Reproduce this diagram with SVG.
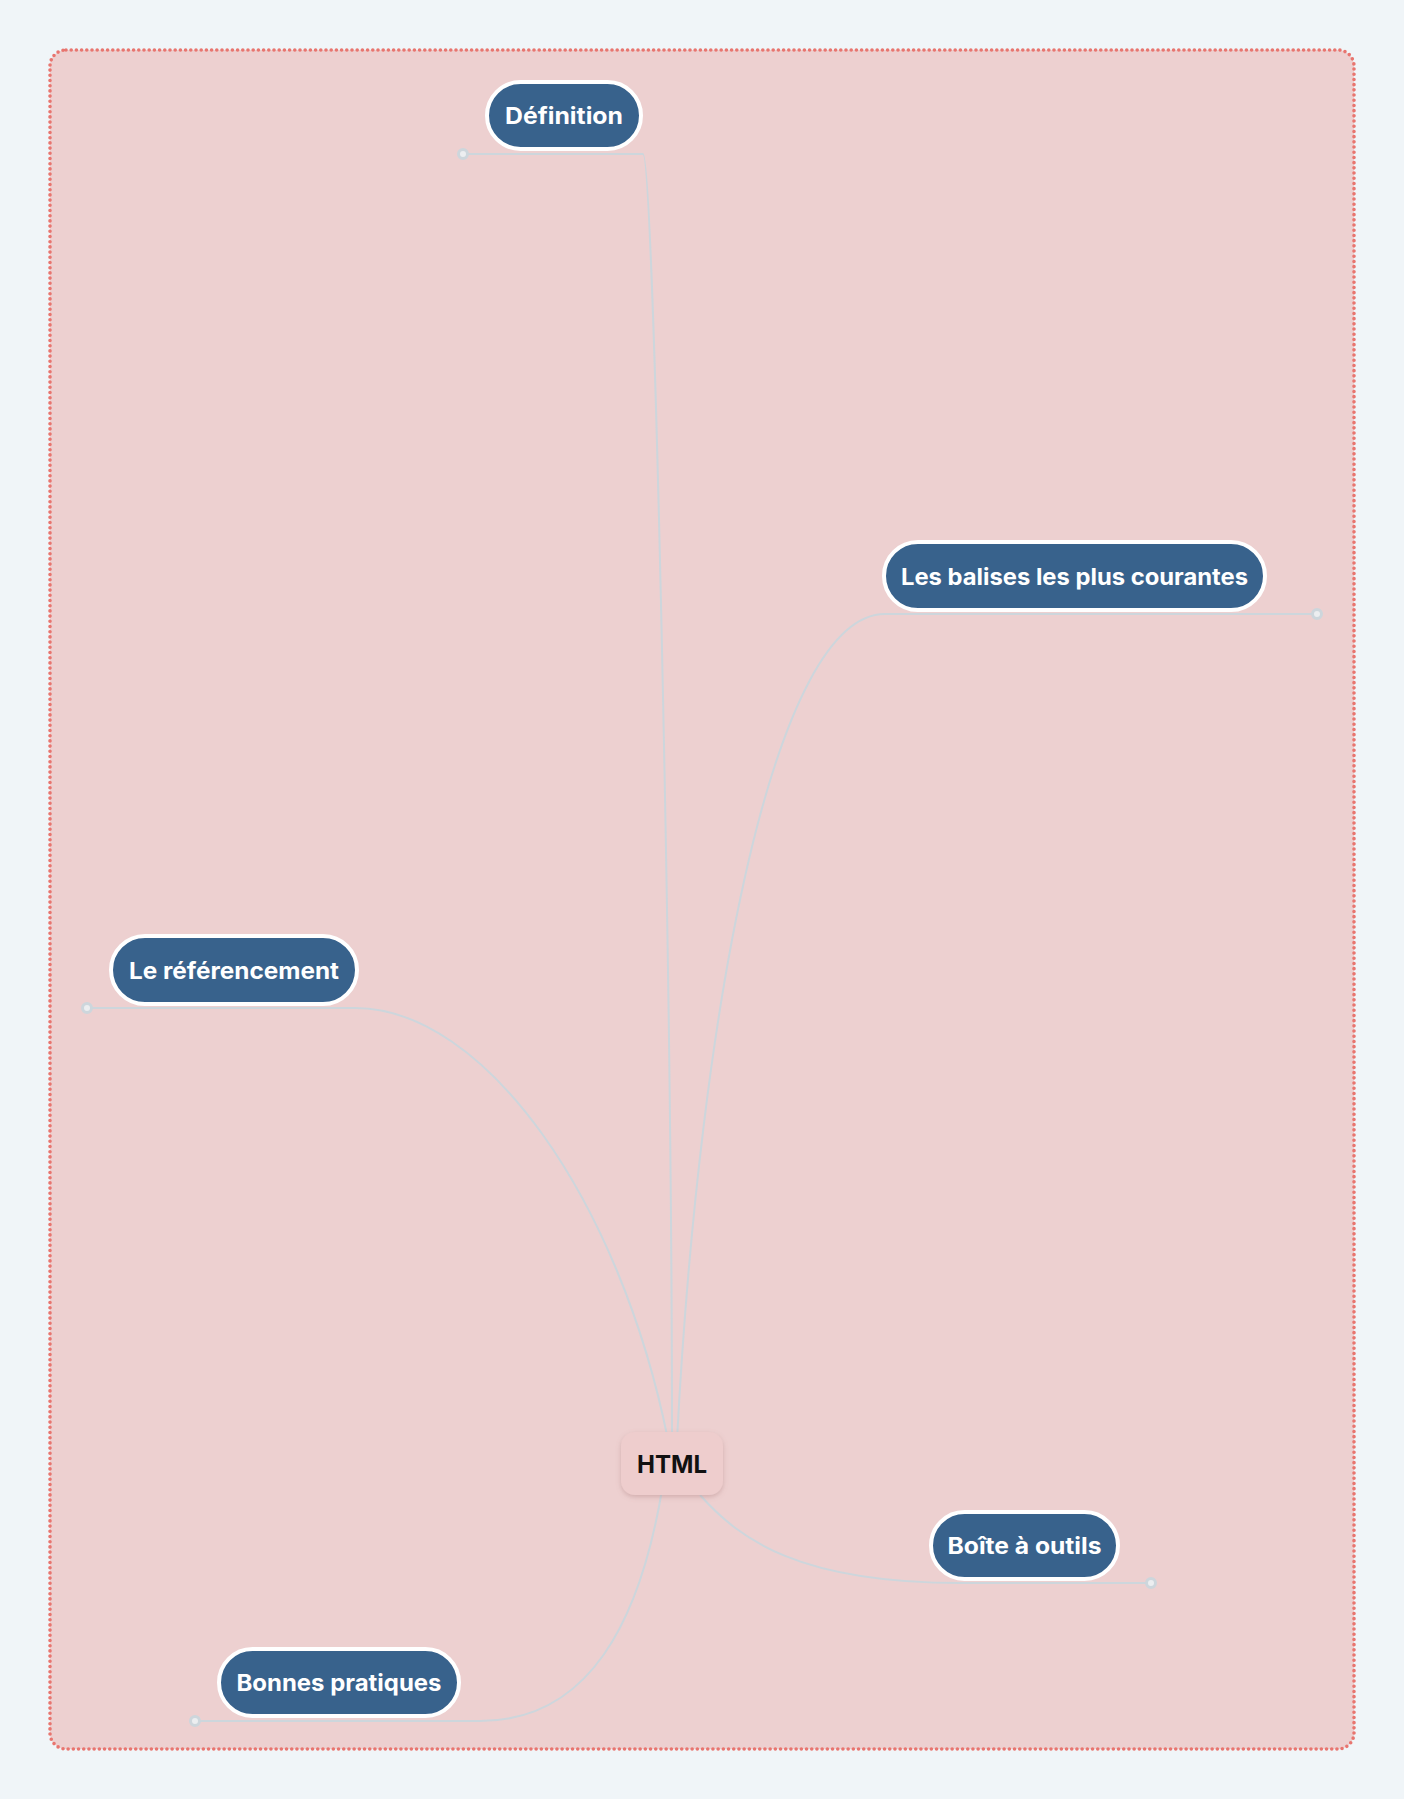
<svg xmlns="http://www.w3.org/2000/svg" width="1404" height="1799" viewBox="0 0 1404 1799">
<defs>
<style>
.bg{fill:#f0f5f8}
.frame{fill:#edd0d0;stroke:#e8756f;stroke-width:3.6;stroke-dasharray:0 5.2;stroke-linecap:round}
.conn{fill:none;stroke:#cdd6dc;stroke-width:2}
.dot{fill:#eceef0;stroke:#cdd6dc;stroke-width:3}
.pill{fill:#38628c;stroke:#ffffff;stroke-width:4}
.lbl{font-family:Inter,"Noto Sans","Liberation Sans",sans-serif;font-weight:700;font-size:23px;fill:#ffffff;text-anchor:middle}
.root{fill:#eecdcd}
.rootlbl{font-family:Inter,"Noto Sans","Liberation Sans",sans-serif;font-weight:700;font-size:24px;fill:#111111;text-anchor:middle}
</style>
<filter id="sh" x="-30%" y="-30%" width="160%" height="170%">
<feDropShadow dx="0" dy="2" stdDeviation="2.5" flood-color="#a07070" flood-opacity="0.35"/>
</filter>
</defs>
<rect class="bg" x="0" y="0" width="1404" height="1799"/>
<rect class="frame" x="50" y="50" width="1304" height="1699" rx="16"/>
<g id="connectors">
<path class="conn" d="M 463 154 H 643 C 654 154 672 1000 672 1440"/>
<path class="conn" d="M 1317 614 H 885 C 775 614 700 1000 677 1440"/>
<path class="conn" d="M 87 1008 H 355 C 485 1008 620 1200 668 1440"/>
<path class="conn" d="M 700 1495 C 740 1540 800 1583 960 1583 H 1151"/>
<path class="conn" d="M 662 1490 C 640 1620 590 1721 480 1721 H 195"/>
<circle class="dot" cx="463" cy="154" r="4.5"/>
<circle class="dot" cx="1317" cy="614" r="4.5"/>
<circle class="dot" cx="87" cy="1008" r="4.5"/>
<circle class="dot" cx="1151" cy="1583" r="4.5"/>
<circle class="dot" cx="195" cy="1721" r="4.5"/>
</g>
<g id="node-html">
<rect class="root" x="621" y="1432" width="102" height="63" rx="14" filter="url(#sh)"/>
<text class="rootlbl" x="672" y="1472.5" textLength="70" lengthAdjust="spacingAndGlyphs">HTML</text>
</g>
<g id="node-definition">
<rect class="pill" x="487" y="82" width="154" height="67" rx="33.5"/>
<text class="lbl" x="564" y="124" textLength="118" lengthAdjust="spacingAndGlyphs">Définition</text>
</g>
<g id="node-balises">
<rect class="pill" x="884" y="542" width="381" height="68" rx="34"/>
<text class="lbl" x="1074.5" y="584.5" textLength="347" lengthAdjust="spacingAndGlyphs">Les balises les plus courantes</text>
</g>
<g id="node-referencement">
<rect class="pill" x="111" y="936" width="246" height="68" rx="34"/>
<text class="lbl" x="234" y="978.5" textLength="210" lengthAdjust="spacingAndGlyphs">Le référencement</text>
</g>
<g id="node-boite">
<rect class="pill" x="931" y="1512" width="187" height="67" rx="33.5"/>
<text class="lbl" x="1024.5" y="1554" textLength="154" lengthAdjust="spacingAndGlyphs">Boîte à outils</text>
</g>
<g id="node-bonnes">
<rect class="pill" x="219" y="1649" width="240" height="67" rx="33.5"/>
<text class="lbl" x="339" y="1691" textLength="205" lengthAdjust="spacingAndGlyphs">Bonnes pratiques</text>
</g>
</svg>
